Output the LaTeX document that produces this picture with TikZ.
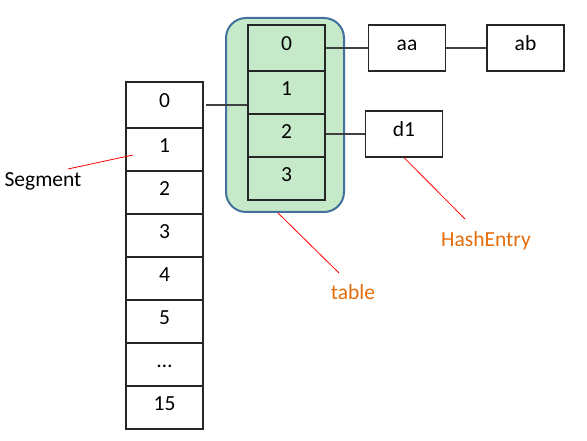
\documentclass[tikz,border=0pt]{standalone}
\usepackage{fontspec}
\setmainfont{Carlito}
\definecolor{tgreen}{RGB}{198,233,201}
\definecolor{tblue}{RGB}{65,113,156}
\definecolor{lbl}{RGB}{228,108,10}
\definecolor{ln}{RGB}{64,64,64}
\begin{document}
\begin{tikzpicture}[x=1pt,y=-1pt,
  cell/.style={draw=black!85,line width=1.2pt,minimum width=77pt,inner sep=0pt,text height=14pt,text depth=8.5pt,font=\fontsize{21.5}{24}\selectfont},
  entry/.style={cell,minimum height=46pt},
  link/.style={draw=ln,line width=1.2pt},
  callout/.style={draw=red,line width=0.8pt},
  note/.style={font=\fontsize{21.5}{24}\selectfont,inner sep=0pt}]
\useasboundingbox (0,0) rectangle (587,441);
% table container
\node[draw=tblue,line width=2pt,fill=tgreen,rounded corners=20pt,minimum width=118pt,minimum height=194pt] (tbl) at (285,115) {};
% segment array
\node[cell,minimum height=46pt] (s0) at (164.5,105) {0};
\node[cell,minimum height=43pt] (s1) at (164.5,149.5) {1};
\node[cell,minimum height=43pt] (s2) at (164.5,192.5) {2};
\node[cell,minimum height=43pt] (s3) at (164.5,235.5) {3};
\node[cell,minimum height=43pt] (s4) at (164.5,278.5) {4};
\node[cell,minimum height=43pt] (s5) at (164.5,321.5) {5};
\node[cell,minimum height=43pt] (s6) at (164.5,364.5) {…};
\node[cell,minimum height=43pt] (s7) at (164.5,407.5) {15};
% table cells
\node[cell,minimum height=46pt] (t0) at (286.5,48) {0};
\node[cell,minimum height=43pt] (t1) at (286.5,92.5) {1};
\node[cell,minimum height=43pt] (t2) at (286.5,135.5) {2};
\node[cell,minimum height=43pt] (t3) at (286.5,178.5) {3};
% entries
\node[entry] (aa) at (407,48) {aa};
\node[entry] (ab) at (525.5,48) {ab};
\node[entry] (d1) at (404,134) {d1};
% connectors
\draw[link] ([xshift=2pt]s0.east) -- (s0.east -| t1.west);
\draw[link] (t0.east) -- (aa.west);
\draw[link] (aa.east) -- (ab.west);
\draw[link] (d1.west -| t2.east) -- (d1.west);
% labels
\node[note] (seg) at (43,181) {Segment};
\node[note,text=lbl] (tlab) at (353,292) {table};
\node[note,text=lbl] (hlab) at (486,241) {HashEntry};
\coordinate (segend) at (133,155);
\coordinate (segstart) at (68,169);
\coordinate (tend) at (339,273);
\coordinate (hend) at (465,219);
\draw[callout] (segstart) -- (segend);
\draw[callout] ([xshift=-7pt]tbl.south) -- (tend);
\draw[callout] (d1.south) -- (hend);
\end{tikzpicture}
\end{document}
